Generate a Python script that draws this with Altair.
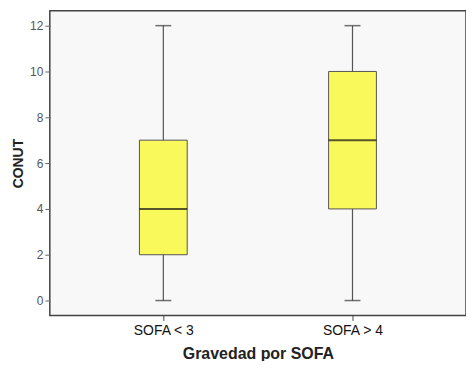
import altair as alt
import pandas as pd

groups = ["SOFA < 3", "SOFA > 4"]
mins = [0, 0]
q1s = [2, 4]
medians = [4, 7]
q3s = [7, 10]
maxs = [12, 12]

df = pd.DataFrame({"g": groups, "mn": mins, "q1": q1s, "med": medians, "q3": q3s, "mx": maxs})

x = alt.X("g:N", scale=alt.Scale(type="point", padding=0.6, domain=groups),
          axis=alt.Axis(title="Gravedad por SOFA", labelAngle=0, labelFontSize=14,
                        labelColor="#111", titleFontSize=16, titleFontWeight="bold",
                        titleColor="#222", tickSize=5, tickColor="#444", labelPadding=3,
                        titlePadding=8, domain=False, labelFont="Liberation Sans",
                        titleFont="Liberation Sans"))
yscale = alt.Scale(domain=[-0.65, 12.65], nice=False, zero=False)
yaxis = alt.Axis(title="CONUT", values=[0, 2, 4, 6, 8, 10, 12], grid=False, labelFontSize=12,
                 labelColor="#555", titleFontSize=14, titleFontWeight="bold", titleColor="#222",
                 tickSize=5, tickColor="#666", labelPadding=2, domain=False,
                 titleX=-31, titleBaseline="middle", labelFont="Liberation Sans",
                 titleFont="Liberation Sans")

base = alt.Chart(df)
whisk = base.mark_rule(color="#555", strokeWidth=1.2).encode(
    x=x, y=alt.Y("mn:Q", scale=yscale, axis=yaxis), y2="mx:Q")
box = base.mark_bar(size=48, color="#f9f95c", stroke="#555", strokeWidth=1).encode(
    x=x, y=alt.Y("q1:Q", scale=yscale, axis=yaxis), y2="q3:Q")
med = base.mark_tick(size=48, thickness=2, color="#111").encode(
    x=x, y=alt.Y("med:Q", scale=yscale, axis=yaxis))
capl = base.mark_tick(size=16, thickness=1.5, color="#333").encode(
    x=x, y=alt.Y("mn:Q", scale=yscale, axis=yaxis))
caph = base.mark_tick(size=16, thickness=1.5, color="#333").encode(
    x=x, y=alt.Y("mx:Q", scale=yscale, axis=yaxis))

chart = alt.layer(whisk, box, med, capl, caph).properties(
    width=418, height=306, autosize=alt.AutoSizeParams(type="none"),
    padding={"left": 42, "top": 2, "right": 0, "bottom": 45}, background="white"
).configure_view(fill="#f8f8f8", stroke="#444", strokeWidth=1.5)

chart.save("out.html", embed_options={"renderer": "svg", "actions": False})
